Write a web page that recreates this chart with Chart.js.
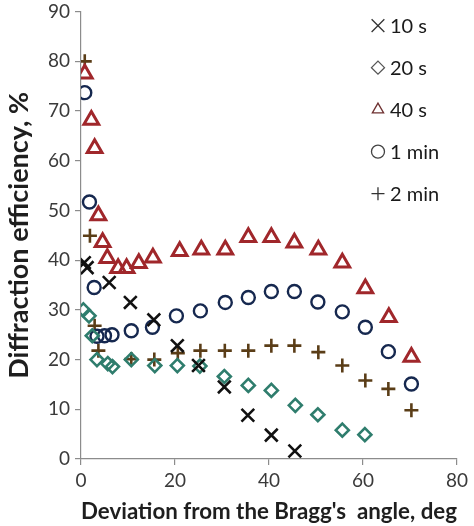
<!DOCTYPE html>
<html>
<head>
<meta charset="utf-8">
<script src="https://cdn.jsdelivr.net/npm/chart.js@4"></script>
<style>
html,body{margin:0;padding:0;background:#fff;}
#wrap{width:474px;height:526px;position:relative;}
</style>
</head>
<body>
<div id="wrap"><canvas id="c"></canvas></div>
<script>
// ---- data ----
const seriesLabels = ['10 s', '20 s', '40 s', '1 min', '2 min'];

const x10s = [0.7, 1.3, 6, 10.5, 15.5, 20.5, 25, 30.5, 35.5, 40.5, 45.5];
const y10s = [39.5, 38.5, 35.5, 31.5, 28, 22.8, 18.8, 14.5, 8.8, 4.8, 1.6];

const x20s = [0.5, 1.7, 2.4, 3.4, 5.7, 6.7, 10.7, 15.7, 20.5, 25.3, 30.5, 35.6, 40.5, 45.6, 50.4, 55.6, 60.4];
const y20s = [30, 28.8, 24.8, 20, 19.2, 18.6, 20, 18.8, 18.8, 18.7, 16.6, 14.8, 13.8, 10.8, 8.9, 5.8, 4.9];

const x40s = [0.8, 2.2, 2.9, 3.7, 4.6, 5.6, 7.9, 9.7, 12.3, 15.3, 21, 25.6, 30.7, 35.6, 40.5, 45.4, 50.5, 55.6, 60.5, 65.5, 70.3];
const y40s = [77.5, 68.2, 62.5, 49, 43.6, 40.4, 38.4, 38.4, 39.4, 40.5, 41.8, 42.1, 42.1, 44.6, 44.6, 43.5, 42.1, 39.5, 34.3, 28.5, 20.5];

const x1min = [0.8, 1.8, 2.8, 3.4, 5, 6.6, 10.7, 15.2, 20.3, 25.4, 30.7, 35.6, 40.5, 45.4, 50.4, 55.6, 60.5, 65.4, 70.3];
const y1min = [73.7, 51.7, 34.5, 24.7, 24.8, 25, 25.8, 26.5, 28.8, 29.8, 31.5, 32.5, 33.7, 33.7, 31.6, 29.6, 26.5, 21.6, 15.1];

const x2min = [0.8, 1.9, 2.9, 3.7, 10.7, 15.6, 20.6, 25.4, 30.6, 35.6, 40.5, 45.4, 50.5, 55.6, 60.5, 65.4, 70.3];
const y2min = [80, 44.9, 26.8, 21.8, 20.1, 20, 21.3, 21.8, 21.8, 21.8, 22.8, 22.8, 21.5, 18.8, 15.8, 14.1, 9.8];

const xTicks = [0, 20, 40, 60, 80];
const yTicks = [0, 10, 20, 30, 40, 50, 60, 70, 80, 90];

const xTitle = "Deviation from the Bragg's  angle, deg";
const yTitle = 'Diffraction efficiency, %';

// ---- build ----
function pts(xs, ys) { return xs.map((x, i) => ({ x: x, y: ys[i] })); }

const styles = [
  { pointStyle: 'crossRot', color: '#111111', radius: 9, lw: 2.6, legendColor: '#333333' },
  { pointStyle: 'rectRot', color: '#2f7d6d', radius: 6.5, lw: 2.6, legendColor: '#555555' },
  { pointStyle: 'triangle', color: '#a0272b', radius: 8.5, lw: 3, legendColor: '#6e3030' },
  { pointStyle: 'circle', color: '#16284f', radius: 6.5, lw: 2.4, legendColor: '#444444' },
  { pointStyle: 'cross', color: '#5a3d17', radius: 7, lw: 2.6, legendColor: '#333333' }
];
const dataArrays = [pts(x10s, y10s), pts(x20s, y20s), pts(x40s, y40s), pts(x1min, y1min), pts(x2min, y2min)];

const datasets = seriesLabels.map((lab, i) => ({
  label: lab,
  data: dataArrays[i],
  showLine: false,
  pointStyle: styles[i].pointStyle,
  pointRadius: styles[i].radius,
  pointHoverRadius: styles[i].radius,
  pointBorderWidth: styles[i].lw,
  pointBorderColor: styles[i].color,
  pointBackgroundColor: 'rgba(255,255,255,0)',
  borderColor: styles[i].color,
  backgroundColor: 'rgba(255,255,255,0)'
}));

const insideLegend = {
  id: 'insideLegend',
  afterDatasetsDraw(chart) {
    const ctx = chart.ctx;
    const a = chart.chartArea;
    const mx = a.right - 79;
    const tx = a.right - 67;
    ctx.save();
    ctx.font = '20px Lato';
    ctx.textBaseline = 'middle';
    ctx.textAlign = 'left';
    chart.data.datasets.forEach((ds, i) => {
      const y = a.top + 14 + i * 42;
      ctx.strokeStyle = styles[i].legendColor;
      ctx.fillStyle = 'rgba(0,0,0,0)';
      ctx.lineWidth = 1.3;
      Chart.helpers.drawPoint(ctx, { pointStyle: styles[i].pointStyle, radius: styles[i].pointStyle === 'crossRot' ? 9 : 6.5, borderWidth: 1.3, rotation: 0 }, mx, y);
      ctx.fillStyle = '#1a1a1a';
      ctx.fillText(ds.label, tx, y + 1);
    });
    ctx.restore();
  }
};

new Chart(document.getElementById('c'), {
  type: 'scatter',
  data: { datasets: datasets },
  plugins: [insideLegend],
  options: {
    responsive: true,
    maintainAspectRatio: false,
    animation: false,
    devicePixelRatio: 1,
    layout: { padding: { left: 0, right: 13, top: 6, bottom: 0 } },
    plugins: { legend: { display: false }, tooltip: { enabled: false } },
    scales: {
      x: {
        type: 'linear',
        min: 0, max: 80,
        afterBuildTicks: (s) => { s.ticks = xTicks.map(v => ({ value: v })); },
        afterFit: (s) => { s.height = 67; },
        border: { color: '#8c8c8c', width: 1.2 },
        grid: { drawOnChartArea: false, drawTicks: true, tickLength: 6, color: '#8c8c8c', lineWidth: 1.2 },
        ticks: { color: '#3a3a3a', font: { family: 'Lato', size: 19, lineHeight: 1.0 }, padding: 6, maxRotation: 0 },
        title: { display: true, text: xTitle, color: '#1e1e1e', font: { family: 'Lato', size: 22.5, weight: 'bold', lineHeight: 1.2 }, padding: { top: 0, bottom: 1 } }
      },
      y: {
        type: 'linear',
        min: 0, max: 90,
        afterBuildTicks: (s) => { s.ticks = yTicks.map(v => ({ value: v })); },
        afterFit: (s) => { s.width = 81; },
        border: { color: '#8c8c8c', width: 1.2 },
        grid: { drawOnChartArea: false, drawTicks: true, tickLength: 6, color: '#8c8c8c', lineWidth: 1.2 },
        ticks: { color: '#3a3a3a', font: { family: 'Lato', size: 19, lineHeight: 0.7 }, padding: 5 },
        title: { display: true, text: yTitle, color: '#1e1e1e', font: { family: 'Lato', size: 27, weight: 'bold', lineHeight: 1.1 }, padding: { top: 4, bottom: 0 } }
      }
    }
  }
});
</script>
</body>
</html>
